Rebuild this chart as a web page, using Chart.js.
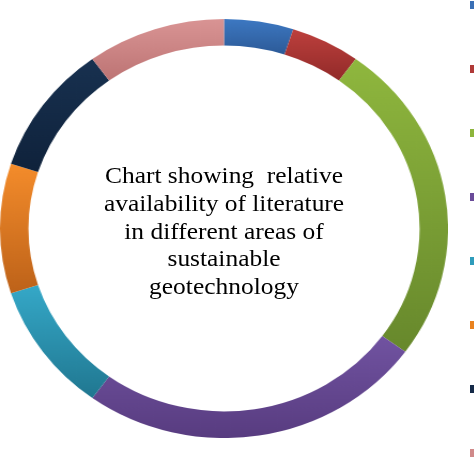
<!DOCTYPE html>
<html>
<head>
<meta charset="utf-8">
<script src="https://cdn.jsdelivr.net/npm/chart.js@4.4.1/dist/chart.umd.min.js"></script>
<style>
  html, body { margin: 0; padding: 0; background: #ffffff; overflow: hidden; width: 474px; height: 460px; }
  #stage { position: absolute; left: 0; top: 0; width: 420px; height: 460px; transform: scaleX(1.0693); transform-origin: 0 0; }
  #c { position: absolute; left: 0; top: 19.25px; width: 419px; height: 419px; }
  #centerText { position: absolute; left: 9.5px; width: 400px; top: 162px; text-align: center;
    font-family: "Liberation Serif", "Times New Roman", serif; font-size: 23.8px; line-height: 27.8px; color: #000; white-space: pre; }
  #legend { position: absolute; left: 470px; top: 0; }
  .li { position: absolute; left: 0; white-space: nowrap; font-family: "Liberation Serif", serif; font-size: 14px; }
  .lb { display: inline-block; width: 8px; height: 8px; vertical-align: top; }
  .lt { display: inline-block; margin-left: 6px; vertical-align: top; line-height: 8px; }
</style>
</head>
<body>
<div id="stage">
  <canvas id="c" width="419" height="419"></canvas>
  <div id="centerText">Chart showing  relative
availability of literature
in different areas of
sustainable
geotechnology</div>
</div>
<div id="legend"></div>
<script>
// ---- data ----
const categories = ["Area 1", "Area 2", "Area 3", "Area 4", "Area 5", "Area 6", "Area 7", "Area 8"];
const shares = [5, 5, 25, 25, 10, 10, 10, 10];

// ---- styles ----
const lightColors = ["#3d78c2", "#bd403d", "#8fb73e", "#7153a1", "#35a8c8", "#f48c2b", "#183150", "#d99494"];
const darkColors  = ["#2c5a97", "#922a29", "#67882c", "#583c80", "#207790", "#bd6219", "#0f223b", "#bd7474"];
const midColors   = ["#3a6fb5", "#b03a38", "#8db53c", "#6a4b99", "#2f9cbb", "#e9821f", "#152a48", "#d08a8a"];
const CUTOUT = 0.873;

function segmentFill(ctx) {
  const chart = ctx.chart;
  const ca = chart.chartArea;
  const i = ctx.dataIndex;
  if (!ca || i === undefined) return midColors[i] || "#888";
  const data = chart.data.datasets[0].data;
  const total = data.reduce((a, b) => a + b, 0);
  let before = 0;
  for (let k = 0; k < i; k++) before += data[k];
  const a0 = -Math.PI / 2 + 2 * Math.PI * before / total;
  const a1 = a0 + 2 * Math.PI * data[i] / total;
  const cx = (ca.left + ca.right) / 2, cy = (ca.top + ca.bottom) / 2;
  const R = Math.min(ca.width, ca.height) / 2, r = R * CUTOUT;
  let minY = Infinity, maxY = -Infinity;
  for (let s = 0; s <= 60; s++) {
    const a = a0 + (a1 - a0) * s / 60;
    for (const rad of [r, R]) {
      const y = cy + rad * Math.sin(a);
      if (y < minY) minY = y;
      if (y > maxY) maxY = y;
    }
  }
  const g = chart.ctx.createLinearGradient(0, minY, 0, maxY);
  g.addColorStop(0, lightColors[i]);
  g.addColorStop(1, darkColors[i]);
  return g;
}

const chart = new Chart(document.getElementById("c"), {
  type: "doughnut",
  data: {
    labels: categories,
    datasets: [{ data: shares, backgroundColor: segmentFill, borderWidth: 0, hoverOffset: 0, hoverBorderWidth: 0 }]
  },
  options: {
    responsive: false,
    animation: false,
    cutout: (CUTOUT * 100) + "%",
    layout: { padding: 0 },
    plugins: { legend: { display: false }, tooltip: { enabled: false } }
  }
});

// HTML legend built from the chart's own labels
const legendEl = document.getElementById("legend");
chart.data.labels.forEach((lab, i) => {
  const item = document.createElement("div");
  item.className = "li";
  item.style.top = (0.5 + i * 64) + "px";
  const box = document.createElement("span");
  box.className = "lb";
  box.style.background = midColors[i];
  const txt = document.createElement("span");
  txt.className = "lt";
  txt.textContent = lab;
  item.appendChild(box);
  item.appendChild(txt);
  legendEl.appendChild(item);
});
</script>
</body>
</html>
